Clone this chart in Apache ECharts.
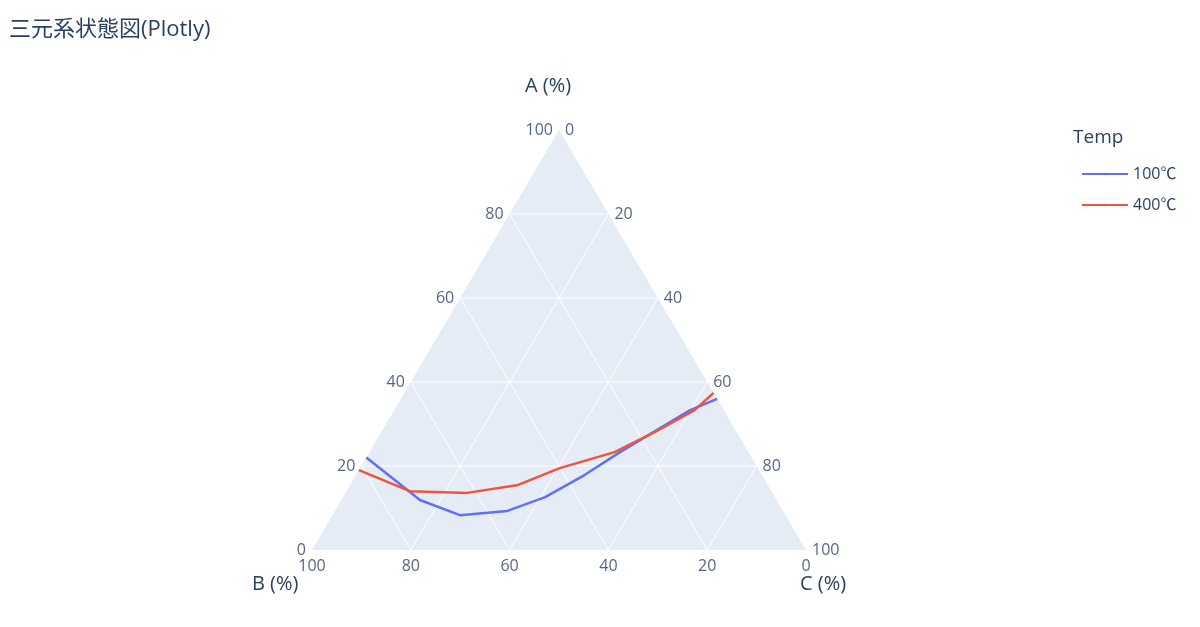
<!DOCTYPE html>
<html>
<head>
<meta charset="utf-8">
<script src="https://cdn.jsdelivr.net/npm/echarts@6/dist/echarts.min.js"></script>
<style>html,body{margin:0;padding:0;background:#fff}#main{width:1200px;height:627px}</style>
</head>
<body>
<div id="main"></div>
<script>
// 三元系データ [A, B, C] (%)
const seriesNames = ['100℃', '400℃'];
const temp100 = [[22,78,0],[11.9,72.2,15.9],[8.3,65.9,25.8],[9.3,55.8,34.9],[12.6,46.5,40.9],[17.9,35.8,46.3],[23.3,26,50.7],[28.3,16.4,55.3],[33.3,6.8,59.9],[36,0,64]];
const temp400 = [[19,81,0],[14,73.2,12.8],[13.6,61.8,24.6],[15.5,50.5,34],[19.5,40.1,40.4],[23.3,27.1,49.6],[28.1,16.5,55.4],[33.3,5.9,60.8],[37.4,0,62.6]];
const ticks = [0, 20, 40, 60, 80, 100];
const colors = ['#636efa', '#EF553B'];
const textColor = '#2a3f5f';
const FONT = '"Open Sans", "Noto Sans CJK JP", sans-serif';

// 三元座標 -> 直交座標
const H = Math.sqrt(3) / 2;
function tern(a, b, c) { return [c + a / 2, a * H]; }

// グリッド線
const gridData = [];
[20, 40, 60, 80].forEach(k => {
    gridData.push(tern(k, 100 - k, 0), tern(k, 0, 100 - k), null);
    gridData.push(tern(100 - k, k, 0), tern(0, k, 100 - k), null);
    gridData.push(tern(100 - k, 0, k), tern(0, 100 - k, k), null);
});

// 目盛りラベル
function labelSeries(points, position, dist) {
    return {
        type: 'scatter', symbolSize: 0, silent: true, data: points,
        label: { show: true, position: position, distance: dist, formatter: p => p.data[2], color: textColor, fontSize: 16, fontFamily: FONT }
    };
}
const aLabels = ticks.map(t => [...tern(t, 100 - t, 0), String(t)]);
const bLabels = ticks.map(t => [...tern(0, t, 100 - t), String(t)]);
const cLabels = ticks.map(t => [...tern(100 - t, 0, t), String(t)]);

const chart = echarts.init(document.getElementById('main'));
chart.setOption({
    animation: false,
    backgroundColor: '#fff',
    title: { text: '三元系状態図(Plotly)', left: 4, top: 14, textStyle: { color: textColor, fontSize: 22, fontWeight: 'normal', fontFamily: FONT } },
    legend: {
        data: seriesNames, orient: 'vertical', left: 1076, top: 161, itemWidth: 46, itemHeight: 3, itemGap: 15,
        textStyle: { color: textColor, fontSize: 16, fontFamily: FONT }
    },
    graphic: [
        { type: 'text', left: 1073, top: 128, style: { text: 'Temp', fill: textColor, fontSize: 19, fontFamily: FONT } },
        { type: 'text', left: 525, top: 76, style: { text: 'A (%)', fill: textColor, fontSize: 20, fontFamily: FONT } },
        { type: 'text', left: 252, top: 574, style: { text: 'B (%)', fill: textColor, fontSize: 20, fontFamily: FONT } },
        { type: 'text', left: 800, top: 574, style: { text: 'C (%)', fill: textColor, fontSize: 20, fontFamily: FONT } }
    ],
    grid: { left: 312, right: 394, top: 130, bottom: 77 },
    xAxis: { type: 'value', min: 0, max: 100, show: false },
    yAxis: { type: 'value', min: 0, max: 100 * H, show: false },
    series: [
        {
            type: 'custom', silent: true, data: [0],
            renderItem: (params, api) => ({
                type: 'polygon',
                shape: { points: [tern(100, 0, 0), tern(0, 100, 0), tern(0, 0, 100)].map(p => api.coord(p)) },
                style: { fill: '#E5ECF6' }
            })
        },
        { type: 'line', silent: true, data: gridData, symbol: 'none', connectNulls: false, lineStyle: { color: '#fff', width: 1 } },
        labelSeries(aLabels, 'left', 6),
        labelSeries(bLabels, 'bottom', 8),
        labelSeries(cLabels, 'right', 6),
        { name: seriesNames[0], type: 'line', symbol: 'none', data: temp100.map(p => tern(...p)), lineStyle: { color: colors[0], width: 2.5 }, itemStyle: { color: colors[0] } },
        { name: seriesNames[1], type: 'line', symbol: 'none', data: temp400.map(p => tern(...p)), lineStyle: { color: colors[1], width: 2.5 }, itemStyle: { color: colors[1] } }
    ]
});
</script>
</body>
</html>
